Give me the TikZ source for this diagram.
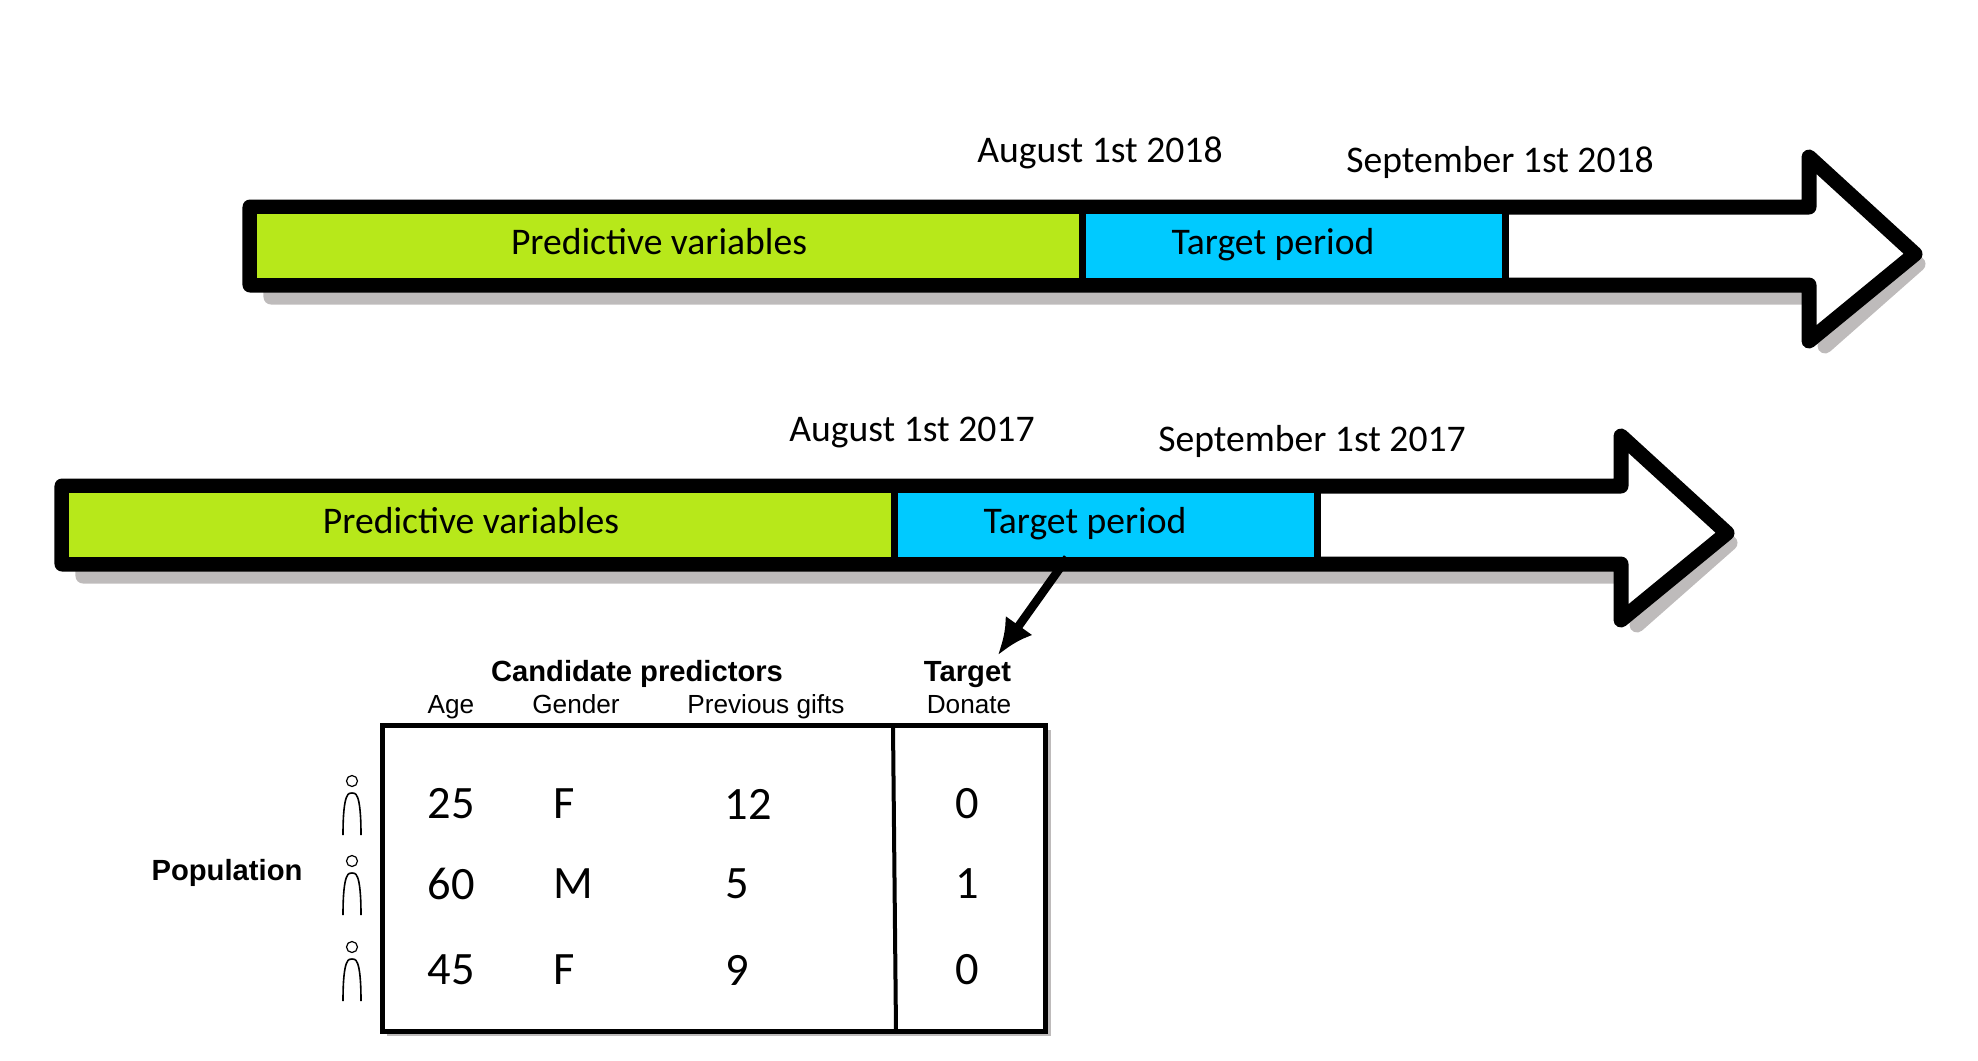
\documentclass[tikz,border=0pt]{standalone}
\usepackage{fontspec}
\setmainfont{Carlito}
\newfontfamily\arialfont{Liberation Sans}
\usepackage{tikz}
\usetikzlibrary{arrows.meta}
\definecolor{predictgreen}{RGB}{183, 232, 26}
\definecolor{targetblue}{RGB}{0, 202, 255}
\definecolor{shadowgray}{RGB}{190, 187, 187}
\tikzset{
	bar/.style={inner sep=0pt, minimum height=0.64cm, anchor=west},
	bigtext/.style={inner sep=0pt, text height=7.5pt, text depth=2.5pt, font=\fontsize{10.7}{12}\selectfont},
	cell/.style={inner sep=0pt, font=\fontsize{13.2}{15}\selectfont},
	headbold/.style={inner sep=0pt, text height=6pt, text depth=1.7pt, font=\arialfont\bfseries\fontsize{8.3}{10}\selectfont},
	headplain/.style={inner sep=0pt, text height=5.5pt, text depth=1.5pt, font=\arialfont\fontsize{7.45}{9}\selectfont},
	tablebox/.style={minimum width=6.63cm, minimum height=3.05cm, inner sep=0pt}
}

\begin{document}
\begin{tikzpicture}[x=0.01cm, y=-0.01cm]
	\useasboundingbox (0,0) rectangle (1978,1060);
	\foreach \n/\dx/\dy/\yr in {1/0/0/2018, 2/-188/279/2017} {
		\begin{scope}[shift={(\dx,\dy)}]
			\draw[line width=0.15cm, line join=round, draw=shadowgray, fill=shadowgray]
				(271,219) -- (1860,219) -- (1918,264) -- (1825,346) -- (1825,297) -- (271,297) -- cycle;
			\draw[line width=0.15cm, line join=round, fill=white]
				(250,207) -- (1809,207) -- (1809,157) -- (1915,254) -- (1809,341) -- (1809,285) -- (250,285) -- cycle;
			\node[bar, fill=predictgreen, minimum width=8.24cm] (greenbar\n) at (256,246) {};
			\node[bar, fill=targetblue, minimum width=4.19cm] (bluebar\n) at (1084,246) {};
			\draw[line width=0.07cm] (1082,207) -- (1082,285);
			\draw[line width=0.07cm] (1505,207) -- (1505,285);
			\node[bigtext] (predictive\n) at (659,246) {Predictive variables};
			\node[bigtext] (period\n) at (1273,246) {Target period};
			\node[bigtext] (august\n) at (1100,154) {August 1st \yr};
			\node[bigtext] (september\n) at (1500,164) {September 1st \yr};
		\end{scope}
	}

	\fill[shadowgray] (387,730) rectangle (1051,1036);
	\node[tablebox, draw, line width=0.05cm, fill=white] (table) at (714,878.5) {};
	\draw[line width=0.04cm] (893,726) -- (896,1031);

	\node[headbold] (candidates) at (637,674) {Candidate predictors};
	\node[headbold] (target) at (967.5,674) {Target};
	\node[headplain] (age) at (451,706) {Age};
	\node[headplain] (gender) at (576,706) {Gender};
	\node[headplain] (gifts) at (766,706) {Previous gifts};
	\node[headplain] (donate) at (969,706.5) {Donate};
	\node[headbold] (population) at (227,872.5) {Population};

	\coordinate (targettip) at (998,655);
	\draw[line width=0.085cm, -{Latex[length=0.36cm, width=0.33cm]}] (bluebar2.220) -- (targettip);

	\foreach \r/\y/\a/\g/\p/\d/\xg/\xp in {1/804/25/F/12/0/564/748, 2/884/60/M/5/1/573/737, 3/970/45/F/9/0/564/737} {
		\node[cell] (age\r) at (451,\y) {\a};
		\node[cell] (gender\r) at (\xg,\y) {\g};
		\node[cell] (gifts\r) at (\xp,\y) {\p};
		\node[cell] (donate\r) at (967.5,\y) {\d};
		\draw[line width=0.012cm] (352,\y-23) circle (5.5);
		\draw[line width=0.016cm] (343,\y+31) .. controls (343,\y-13) and (349,\y-11) .. (352,\y-11) .. controls (355,\y-11) and (361,\y-13) .. (361,\y+31);
	}
\end{tikzpicture}
\end{document}
